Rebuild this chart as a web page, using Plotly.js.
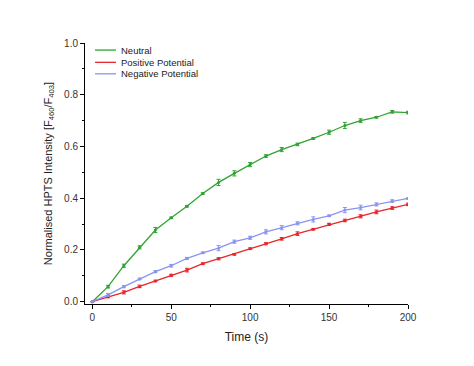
<!DOCTYPE html>
<html>
<head>
<meta charset="utf-8">
<script src="https://cdn.plot.ly/plotly-3.0.1.min.js"></script>
<style>html,body{margin:0;padding:0;background:#fff;}#chart{width:474px;height:366px;}</style>
</head>
<body>
<div id="chart"></div>
<script>
const time = [0,10,20,30,40,50,60,70,80,90,100,110,120,130,140,150,160,170,180,190,200];
const neutral = [0,0.058,0.139,0.210,0.277,0.324,0.369,0.418,0.461,0.496,0.530,0.563,0.588,0.608,0.631,0.655,0.681,0.700,0.713,0.734,0.731];
const neutralErr = [0,0.005,0.006,0.006,0.010,0.003,0.003,0.003,0.012,0.010,0.008,0.005,0.008,0.005,0.003,0.008,0.012,0.007,0.003,0.005,0.005];
const positive = [0,0.019,0.036,0.059,0.080,0.102,0.122,0.147,0.166,0.183,0.205,0.224,0.243,0.263,0.280,0.299,0.314,0.330,0.347,0.362,0.376];
const positiveErr = [0,0.004,0.006,0.005,0.003,0.004,0.007,0.003,0.004,0.003,0.003,0.004,0.005,0.007,0.003,0.004,0.005,0.006,0.007,0.005,0.005];
const negative = [0,0.026,0.058,0.088,0.116,0.139,0.167,0.189,0.207,0.232,0.247,0.270,0.286,0.303,0.318,0.332,0.354,0.364,0.376,0.389,0.399];
const negativeErr = [0,0.005,0.004,0.003,0.004,0.005,0.004,0.003,0.010,0.006,0.006,0.008,0.008,0.006,0.010,0.003,0.010,0.009,0.006,0.005,0.003];
const names = ['Neutral','Positive Potential','Negative Potential'];
const colors = ['#2fa331','#e8262a','#8a94f0'];

const series = [neutral, positive, negative];
const errs = [neutralErr, positiveErr, negativeErr];
const traces = series.map((s,i)=>({
  x: time, y: s, name: names[i], type:'scatter', mode:'lines+markers',
  line:{color:colors[i], width:1.3},
  marker:{color:colors[i], size:3},
  error_y:{type:'data', array:errs[i], visible:true, color:colors[i], thickness:1, width:2},
  showlegend:false
}));

// manual legend (compact spacing like the reference)
const legY = [0.973, 0.926, 0.882];
const shapes = names.map((n,i)=>({type:'line', xref:'paper', yref:'paper', x0:0.031, x1:0.096, y0:legY[i], y1:legY[i], line:{color:colors[i], width:1.3}}));
const annotations = names.map((n,i)=>({xref:'paper', yref:'paper', x:0.104, y:legY[i], xanchor:'left', yanchor:'middle', text:n, showarrow:false,
  font:{family:'Liberation Sans, Arial, sans-serif', size:9.5, color:'#222'}}));

const axisFont = {family:'Liberation Sans, Arial, sans-serif', size:10, color:'#333'};
const layout = {
  width:474, height:366,
  margin:{l:85, r:66, t:43, b:62},
  paper_bgcolor:'#fff', plot_bgcolor:'#fff',
  showlegend:false,
  shapes: shapes, annotations: annotations,
  xaxis:{range:[-4.6,200], showgrid:false, zeroline:false, showline:true, linecolor:'#000', linewidth:1,
    ticks:'outside', ticklen:4, tickcolor:'#000', tickvals:[0,50,100,150,200], tickfont:axisFont,
    minor:{ticks:'outside', ticklen:2, tickvals:[25,75,125,175], tickcolor:'#000'},
    title:{text:'Time (s)', font:{family:'Liberation Sans, Arial, sans-serif', size:12, color:'#222'}, standoff:10}},
  yaxis:{range:[-0.009,1.0], showgrid:false, zeroline:false, showline:true, linecolor:'#000', linewidth:1,
    ticks:'outside', ticklen:4, tickcolor:'#000', tickvals:[0,0.2,0.4,0.6,0.8,1.0], tickformat:'.1f', tickfont:axisFont,
    minor:{ticks:'outside', ticklen:2, tickvals:[0.1,0.3,0.5,0.7,0.9], tickcolor:'#000'},
    title:{text:'Normalised HPTS Intensity [F<sub>460</sub>/F<sub>403</sub>]', font:{family:'Liberation Sans, Arial, sans-serif', size:11, color:'#222'}, standoff:9}}
};
Plotly.newPlot('chart', traces, layout, {staticPlot:true, displayModeBar:false});
</script>
</body>
</html>
